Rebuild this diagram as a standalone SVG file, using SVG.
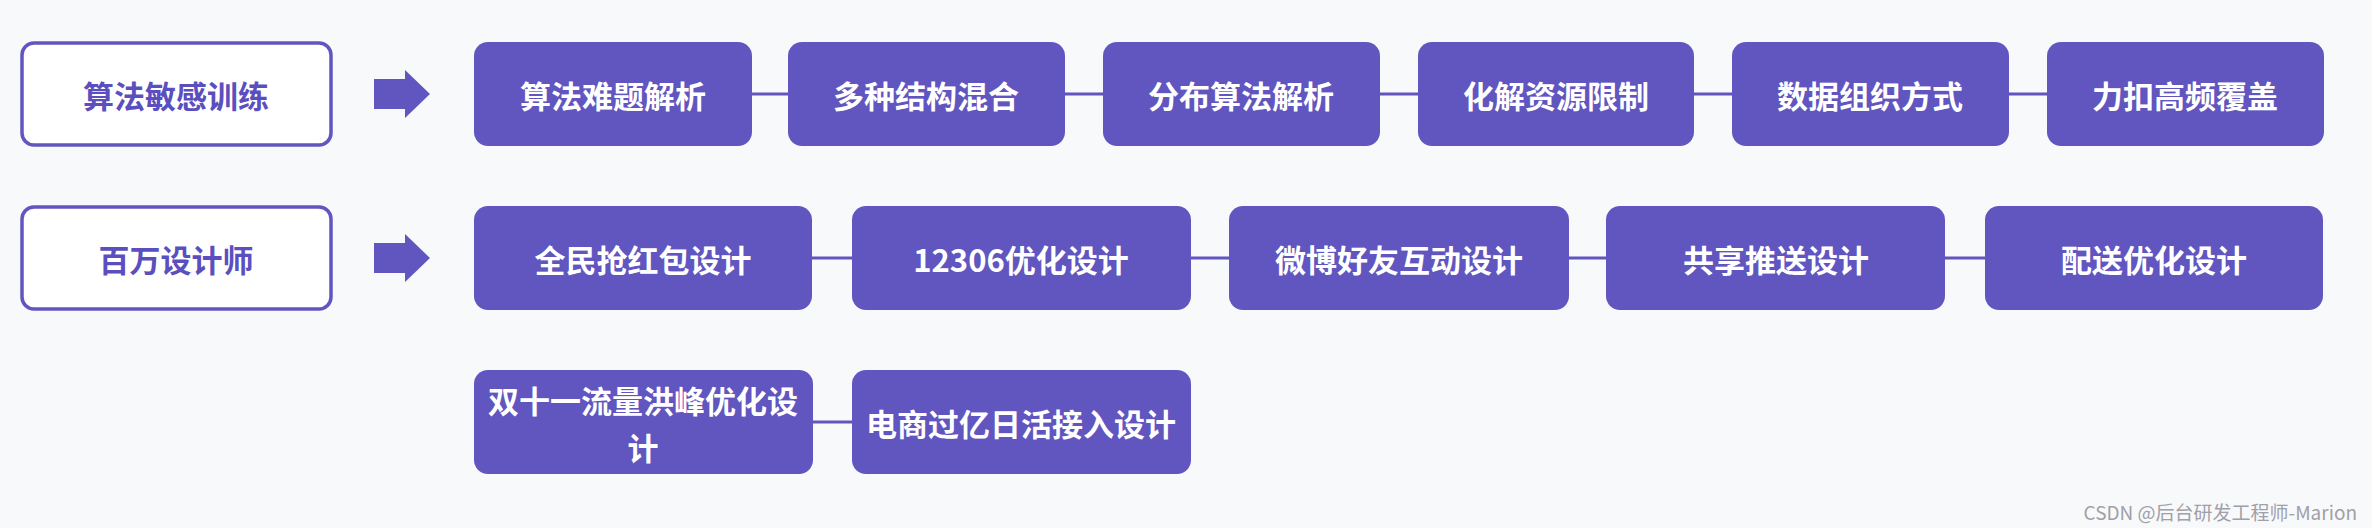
<svg xmlns="http://www.w3.org/2000/svg" width="2372" height="528" viewBox="0 0 2372 528">
<style>
.n{fill:#6155c0}
.h{fill:#fff;stroke:#6155c0;stroke-width:3.5}
text{font-family:"Noto Sans CJK SC","Noto Sans",sans-serif;font-size:31px;font-weight:600;text-anchor:middle;dominant-baseline:central}
.w{fill:#fff}
.p{fill:#5b4fbf}
.c{stroke:#6155c0;stroke-width:3;fill:none}
</style>
<rect width="2372" height="528" fill="#f8f9fb"/>
<g id="connectors">
<path class="c" d="M752 94H788M1065 94H1103M1380 94H1418M1694 94H1732M2009 94H2047M812 258H852M1191 258H1229M1569 258H1606M1945 258H1985M813 422H852"/>
</g>
<g id="arrow1"><polygon class="n" points="374,79 405,79 405,70 430,94 405,118 405,109 374,109"/></g>
<g id="arrow2"><polygon class="n" points="374,243 405,243 405,234 430,258 405,282 405,273 374,273"/></g>
<g id="h1"><rect class="h" x="22" y="43" width="309" height="102" rx="12"/><text class="p" x="176" y="94">算法敏感训练</text></g>
<g id="h2"><rect class="h" x="22" y="207" width="309" height="102" rx="12"/><text class="p" x="176" y="258">百万设计师</text></g>
<g id="a1"><rect class="n" x="474" y="42" width="278" height="104" rx="14"/><text class="w" x="613" y="94">算法难题解析</text></g>
<g id="a2"><rect class="n" x="788" y="42" width="277" height="104" rx="14"/><text class="w" x="926" y="94">多种结构混合</text></g>
<g id="a3"><rect class="n" x="1103" y="42" width="277" height="104" rx="14"/><text class="w" x="1241" y="94">分布算法解析</text></g>
<g id="a4"><rect class="n" x="1418" y="42" width="276" height="104" rx="14"/><text class="w" x="1556" y="94">化解资源限制</text></g>
<g id="a5"><rect class="n" x="1732" y="42" width="277" height="104" rx="14"/><text class="w" x="1870" y="94">数据组织方式</text></g>
<g id="a6"><rect class="n" x="2047" y="42" width="277" height="104" rx="14"/><text class="w" x="2185" y="94">力扣高频覆盖</text></g>
<g id="b1"><rect class="n" x="474" y="206" width="338" height="104" rx="14"/><text class="w" x="643" y="258">全民抢红包设计</text></g>
<g id="b2"><rect class="n" x="852" y="206" width="339" height="104" rx="14"/><text class="w" x="1021" y="258">12306优化设计</text></g>
<g id="b3"><rect class="n" x="1229" y="206" width="340" height="104" rx="14"/><text class="w" x="1399" y="258">微博好友互动设计</text></g>
<g id="b4"><rect class="n" x="1606" y="206" width="339" height="104" rx="14"/><text class="w" x="1776" y="258">共享推送设计</text></g>
<g id="b5"><rect class="n" x="1985" y="206" width="338" height="104" rx="14"/><text class="w" x="2154" y="258">配送优化设计</text></g>
<g id="c1"><rect class="n" x="474" y="370" width="339" height="104" rx="14"/><text class="w" x="643" y="399">双十一流量洪峰优化设</text><text class="w" x="643" y="446">计</text></g>
<g id="c2"><rect class="n" x="852" y="370" width="339" height="104" rx="14"/><text class="w" x="1021" y="422">电商过亿日活接入设计</text></g>
<text x="2357" y="511" style="font-size:19px;font-weight:400;text-anchor:end;fill:#a0a0a8">CSDN @后台研发工程师-Marion</text>
</svg>
